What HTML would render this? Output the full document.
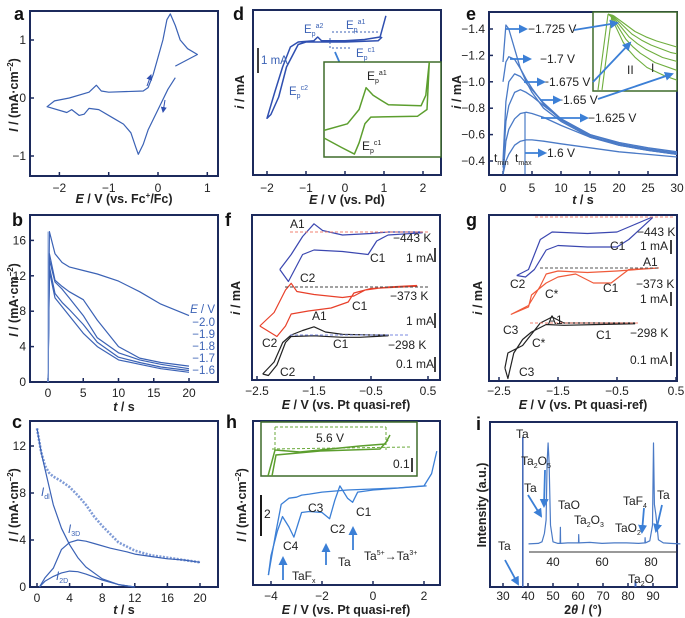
<!DOCTYPE html>
<html><head><meta charset="utf-8"><style>
html,body{margin:0;padding:0;background:#fff}
svg{display:block;font-family:"Liberation Sans",sans-serif}
.fr{fill:none;stroke:#1c2a5c;stroke-width:2}
.tk{font-size:12px;fill:#222}
.al{font-size:12.5px;font-weight:bold;fill:#222}
.pl{font-size:18px;font-weight:bold;fill:#111}
.bl{fill:#3b62b5;font-size:11.5px}
</style></head><body>
<svg id="fig" width="685" height="618" viewBox="0 0 685 618">
<defs>
<marker id="ar" markerUnits="userSpaceOnUse" markerWidth="9" markerHeight="9" refX="7" refY="4.5" orient="auto"><path d="M0,0 L9,4.5 L0,9 z" fill="#3b7fd6"/></marker>
<marker id="ars" markerUnits="userSpaceOnUse" markerWidth="6" markerHeight="6" refX="5" refY="3" orient="auto"><path d="M0,0 L6,3 L0,6 z" fill="#2f4fb0"/></marker>
<clipPath id="eclip"><rect x="593" y="12" width="84" height="79"/></clipPath>
</defs>
<rect class="fr" x="30" y="11" width="188" height="165"/>
<rect class="fr" x="30" y="215" width="188" height="167"/>
<rect class="fr" x="30" y="421" width="188" height="166"/>
<rect class="fr" x="253" y="10" width="188" height="165"/>
<rect class="fr" x="489" y="12" width="188" height="163"/>
<rect class="fr" x="252" y="215" width="188" height="165"/>
<rect class="fr" x="489" y="215" width="188" height="166"/>
<rect class="fr" x="253" y="421" width="187" height="164"/>
<rect class="fr" x="490" y="422" width="187" height="165"/>
<text class="pl" x="14" y="20">a</text>
<text class="pl" x="12" y="226">b</text>
<text class="pl" x="12" y="428">c</text>
<text class="pl" x="233" y="20">d</text>
<text class="pl" x="466" y="20">e</text>
<text class="pl" x="225" y="226">f</text>
<text class="pl" x="466" y="226">g</text>
<text class="pl" x="226" y="428">h</text>
<text class="pl" x="476" y="430">i</text>
<g class="al" text-anchor="middle">
<text x="124" y="203"><tspan font-style="italic">E</tspan> / V (vs. Fc<tspan baseline-shift="5" font-size="8">+</tspan>/Fc)</text>
<text x="124" y="411"><tspan font-style="italic">t</tspan> / s</text>
<text x="124" y="614"><tspan font-style="italic">t</tspan> / s</text>
<text x="347" y="204"><tspan font-style="italic">E</tspan> / V (vs. Pd)</text>
<text x="583" y="204"><tspan font-style="italic">t</tspan> / s</text>
<text x="346" y="409"><tspan font-style="italic">E</tspan> / V (vs. Pt quasi-ref)</text>
<text x="583" y="409"><tspan font-style="italic">E</tspan> / V (vs. Pt quasi-ref)</text>
<text x="346" y="614"><tspan font-style="italic">E</tspan> / V (vs. Pt quasi-ref)</text>
<text x="583" y="614">2<tspan font-style="italic">θ</tspan> / (°)</text>
<text transform="translate(18,95) rotate(-90)"><tspan font-style="italic">I</tspan> / (mA·cm<tspan baseline-shift="5" font-size="8">−2</tspan>)</text>
<text transform="translate(18,300) rotate(-90)"><tspan font-style="italic">I</tspan> / (mA·cm<tspan baseline-shift="5" font-size="8">−2</tspan>)</text>
<text transform="translate(18,505) rotate(-90)"><tspan font-style="italic">I</tspan> / (mA·cm<tspan baseline-shift="5" font-size="8">−2</tspan>)</text>
<text transform="translate(244,92) rotate(-90)"><tspan font-style="italic">i</tspan> / mA</text>
<text transform="translate(461,92) rotate(-90)"><tspan font-style="italic">i</tspan> / mA</text>
<text transform="translate(240,298) rotate(-90)"><tspan font-style="italic">i</tspan> / mA</text>
<text transform="translate(482,298) rotate(-90)"><tspan font-style="italic">i</tspan> / mA</text>
<text transform="translate(246,505) rotate(-90)"><tspan font-style="italic">I</tspan> / (mA·cm<tspan baseline-shift="5" font-size="8">−2</tspan>)</text>
<text transform="translate(486,505) rotate(-90)">Intensity (a.u.)</text>
</g>
<g id="dyn"></g>
</svg>
<script>
// ---------- data ----------
const aTicksX=[-2,-1,0,1], aTicksY=[-1,0,1];
const aCV=[[0.35,0.55],[0.8,0.75],[0.6,0.85],[0.45,1.0],[0.35,1.25],[0.25,1.45],[0.18,1.35],[0.1,1.0],[0,0.7],[-0.1,0.4],[-0.2,0.18],[-0.3,0.12],[-1,0.1],[-1.15,0.12],[-1.25,0.22],[-1.4,0.1],[-1.8,0],[-2.1,-0.05],[-2.25,-0.15],[-1.85,-0.25],[-1.75,-0.2],[-1.6,-0.3],[-1.5,-0.28],[-1.4,-0.18],[-1.2,-0.2],[-0.9,-0.35],[-0.7,-0.45],[-0.55,-0.6],[-0.45,-0.85],[-0.4,-0.97],[-0.3,-0.8],[-0.2,-0.55],[0,-0.2],[0.2,0.15],[0.35,0.35]];
const bT=[0,0.2,1,2,3,5,7,10,13,16,20];
const bSeriesNames=['−2.0','−1.9','−1.8','−1.7','−1.6'];
const bS20=[0,17,14.5,13.5,13,12.6,12.2,11.4,10.2,8.8,7.5];
const bS19=[0,14.5,11.5,10.8,10.2,9.3,7,4,2.7,2.2,1.8];
const bS18=[0,13.8,11.3,10.5,9.5,7.5,5,3.3,2.5,2,1.5];
const bS17=[0,13,10,9,8.2,6.5,4.5,2.8,2.2,1.7,1.3];
const bS16=[0,12.5,9.5,8.5,7.5,5.5,4,2.5,2,1.5,1.1];
const bTicksX=[0,5,10,15,20], bTicksY=[0,4,8,12,16];
const cTdl=[0,0.5,1,2,3,4,5,6,8,10,12], cIdl=[13.5,11.5,10,7,5,3.6,2.5,1.7,0.7,0.2,0];
const cT3=[0.3,1,2,3,4,5,6,7,9,11,12,14,16,18,20], cI3=[0,0.8,1.6,3.2,3.8,4,3.9,3.7,3.3,3,2.8,2.6,2.4,2.3,2.1];
const cT2=[0.3,1,2,3,4,5,6,8,10,12], cI2=[0,0.5,0.9,1.2,1.35,1.3,1.1,0.6,0.2,0];
const cTexp=[0,0.5,1,1.5,2,3,4,5,6,7,8,10,12,14,16,18,20], cIexp=[13.5,11.5,10.3,9.7,9.4,9,8.5,7.8,7,6,5.2,3.8,3.1,2.7,2.5,2.3,2.1];
const cTicksX=[0,4,8,12,16,20], cTicksY=[0,4,8,12];
const dCV=[[1.05,1.05],[0.9,0.2],[0.5,0.1],[0,0.05],[-0.6,0.05],[-0.7,0.2],[-0.8,0.05],[-1.2,0],[-1.4,-0.2],[-1.6,-1.0],[-1.8,-2.0],[-2,-3.05],[-1.9,-2.9],[-1.7,-2.2],[-1.5,-1.0],[-1.3,-0.4],[-1.2,-0.1],[-1,0],[0,0],[0.85,0.05],[0.95,0.2]];
const dInset=[[0,0.72],[0.2,0.65],[0.3,0.5],[0.36,0.27],[0.42,0.35],[0.55,0.45],[0.83,0.46],[0.87,0.35],[0.9,0],[0.88,0.5],[0.8,0.57],[0.4,0.58],[0.35,0.65],[0.3,0.85],[0.26,0.97],[0.15,0.9],[0,0.8]];
const dTicksX=[-2,-1,0,1,2];
const eT=[0,0.5,1,2,3,4,5,7,10,15,20,25,30];
const eLabels=['−1.725 V','−1.7 V','−1.675 V','−1.65 V','−1.625 V','−1.6 V'];
const eS1725=[-1.15,-1.43,-1.4,-1.25,-1.1,-1.0,-0.92,-0.8,-0.7,-0.58,-0.52,-0.48,-0.45];
const eS1700=[-1.0,-1.15,-1.19,-1.17,-1.1,-1.02,-0.95,-0.83,-0.71,-0.59,-0.52,-0.48,-0.45];
const eS1675=[-0.4,-0.85,-1.0,-1.06,-1.04,-0.99,-0.94,-0.84,-0.72,-0.6,-0.53,-0.49,-0.46];
const eS1650=[-0.35,-0.7,-0.82,-0.92,-0.94,-0.92,-0.89,-0.82,-0.72,-0.6,-0.54,-0.5,-0.47];
const eS1625=[-0.3,-0.55,-0.64,-0.72,-0.76,-0.77,-0.76,-0.73,-0.67,-0.58,-0.53,-0.49,-0.46];
const eS1600=[-0.3,-0.4,-0.45,-0.52,-0.55,-0.56,-0.56,-0.55,-0.53,-0.5,-0.47,-0.45,-0.43];
const eTicksX=[0,5,10,15,20,25,30], eTicksY=[-1.4,-1.2,-1.0,-0.8,-0.6,-0.4];
const fBlue=[[-2.1,-2.5],[-1.9,-1.5],[-1.7,-0.3],[-1.5,0.55],[-1.35,0.1],[-1.0,-0.2],[-0.5,-0.1],[-0.2,0],[0.4,0],[0.4,-0.05],[-0.2,-0.2],[-0.4,-0.6],[-0.55,-1.5],[-1.0,-1.3],[-1.5,-1.2],[-1.7,-1.5],[-1.95,-3.3],[-2.1,-2.5]];
const fRed=[[-2.45,-2.6],[-2.2,-1.7],[-2.0,-0.2],[-1.9,0.25],[-1.8,-0.3],[-1.5,-0.5],[-1.0,-0.7],[-0.8,-0.6],[-0.6,-0.2],[-0.2,0],[0.3,0.1],[0.3,0.05],[-0.5,-0.1],[-0.8,-0.4],[-0.9,-1.0],[-1.2,-1.4],[-1.6,-1.6],[-1.9,-1.8],[-2.0,-2.6],[-2.15,-3.3],[-2.45,-2.6]];
const fBlack=[[-2.4,-2.6],[-2.2,-1.8],[-2.05,-0.5],[-1.9,0],[-1.7,0.3],[-1.5,0.55],[-1.3,0.2],[-1.0,0.05],[-0.5,0],[-0.2,0],[-0.2,-0.05],[-0.7,-0.15],[-1.0,-0.15],[-1.5,-0.05],[-1.9,-0.1],[-2.0,-0.5],[-2.15,-2.0],[-2.3,-2.7],[-2.4,-2.6]];
const gBlue=[[-2.2,-3.9],[-2.0,-3.5],[-1.8,-1.5],[-1.6,-1.0],[-1.0,-1.1],[-0.5,-1.0],[-0.2,-0.5],[0.1,0],[0.1,-0.05],[-0.3,-1.5],[-0.5,-2.0],[-1.0,-2.0],[-1.5,-1.9],[-1.7,-2.2],[-1.9,-3.5],[-2.05,-4.0],[-2.2,-3.9]];
const gRed=[[-2.3,-3.1],[-2.0,-2.5],[-1.8,-1.2],[-1.7,-0.4],[-1.5,-0.2],[-1.0,-0.3],[-0.5,-0.2],[0.2,0],[0.2,0],[-0.3,-0.1],[-0.6,-1.0],[-0.9,-1.0],[-1.2,-0.4],[-1.5,-0.6],[-1.7,-1.0],[-1.95,-1.8],[-2.0,-2.6],[-2.3,-3.1]];
const gBlack=[[-2.4,-3.0],[-2.35,-2.0],[-2.1,-1.5],[-1.9,-0.5],[-1.8,0],[-1.6,0.4],[-1.4,0],[-0.2,0],[-0.2,-0.05],[-0.8,-0.1],[-1.4,-0.15],[-1.7,-0.1],[-1.95,-0.6],[-2.1,-1.1],[-2.25,-2.0],[-2.35,-3.7],[-2.4,-3.0]];
const fgTicksX=[-2.5,-1.5,-0.5,0.5];
const hCV=[[-4.1,-4.15],[-3.8,-2.0],[-3.6,-0.7],[-3.3,-0.4],[-3.0,-0.35],[-2.8,-0.25],[-2.5,-0.2],[-2,-0.1],[-1,0],[0,0.05],[1,0.1],[2.0,0.2],[2.3,0.8],[2.5,1.9]];
const hCV2=[[2.1,0.2],[0,0],[-0.6,-0.1],[-0.8,-0.6],[-1.0,-0.4],[-1.3,0.2],[-1.5,-0.5],[-1.7,-1.4],[-2.0,-1.1],[-2.5,-1.05],[-2.8,-1.1],[-3.1,-2.3],[-3.3,-1.8],[-3.55,-1.3],[-3.75,-2.0],[-4.0,-3.2],[-4.1,-4.15]];
const hTicksX=[-4,-2,0,2];
const iTicksX=[30,40,50,60,70,80,90];
const iInsetTheta=[30,34,35.5,36.5,37.2,37.6,38,38.4,39,40,42,42.9,43,43.1,46,50.4,50.5,50.6,55,60,65,70,75,77.5,77.6,77.7,79.5,80.6,81,81.4,82,83,85,88,92];
const iInsetInt=[2,2.5,4,12,25,80,99,80,20,4,2.5,2.5,18,2.5,3,3,11,3,3.5,2.5,3,3,2.5,3,8,3,5,20,99,40,30,6,3,2.5,2];
const iInsetTicks=[40,60,80];
// ---------- helpers ----------
const NS='http://www.w3.org/2000/svg';
const root=document.getElementById('dyn');
function el(tag,attrs,parent){const e=document.createElementNS(NS,tag);for(const k in attrs)e.setAttribute(k,attrs[k]);(parent||root).appendChild(e);return e;}
function dstr(pts,fx,fy){return pts.map((p,i)=>(i?'L':'M')+fx(p[0]).toFixed(1)+','+fy(p[1]).toFixed(1)).join(' ');}
function zip(a,b){return a.map((v,i)=>[v,b[i]]);}
function line(pts,fx,fy,stroke,w,name,extra,parent){const p=el('path',Object.assign({d:dstr(pts,fx,fy),fill:'none',stroke:stroke,'stroke-width':w,'stroke-linejoin':'round'},extra||{}),parent);


return p;}
function txt(x,y,s,cls,name,anchor,fill,size){const t=el('text',{x:x,y:y,'class':cls||'tk','text-anchor':anchor||'middle'});if(fill)t.setAttribute('fill',fill);if(size)t.setAttribute('font-size',size);
if(s.indexOf('<')>=0)t.innerHTML=s;else t.textContent=s;


return t;}
const SUB=s=>'<tspan baseline-shift="-3" font-size="7">'+s+'</tspan>';
const SUP=s=>'<tspan baseline-shift="5" font-size="7">'+s+'</tspan>';
function xticks(ticks,fx,yb,ylab,name,fmt){ticks.forEach(v=>{const t=el('line',{x1:fx(v),x2:fx(v),y1:yb,y2:yb-4,stroke:'#1c2a5c','stroke-width':1.5});


txt(fx(v),ylab,fmt?fmt(v):String(v).replace('-','−'),'tk',name+'-tick-label');});}
function yticks(ticks,fy,xl,name,fmt){ticks.forEach(v=>{const t=el('line',{x1:xl,x2:xl+4,y1:fy(v),y2:fy(v),stroke:'#1c2a5c','stroke-width':1.5});


txt(xl-4,fy(v)+4,fmt?fmt(v):String(v).replace('-','−'),'tk',name+'-tick-label','end');});}
function arrow(x1,y1,x2,y2,name,small){const a=el('line',{x1:x1,y1:y1,x2:x2,y2:y2,stroke:small?'#2f4fb0':'#3b7fd6','stroke-width':small?1:1.8,'marker-end':small?'url(#ars)':'url(#ar)'});

}
const BL='#3b62b5', GR='#5c9e2e', RD='#e8402a', BK='#222';
// ---------- panel a ----------
const ax=v=>158+v*49.3, ay=v=>98-v*58;
xticks(aTicksX,ax,176,192,'a-x');yticks(aTicksY,ay,30,'a-y');
line(aCV,ax,ay,BL,1.2,'a-cv-curve');
arrow(147,86,151,75,'a-arrow-up',true);arrow(165,100,163,112,'a-arrow-down',true);
// ---------- panel b ----------
const bx=v=>48+v*7.05, by=v=>382-v*8.85;
xticks(bTicksX,bx,382,397,'b-x');yticks(bTicksY,by,30,'b-y');
[bS20,bS19,bS18,bS17,bS16].forEach((s,i)=>line(zip(bT,s),bx,by,BL,1.2,'b-series-'+i));
line([[0,0],[0,17]],bx,by,'#8fa8da',1,'b-rise-line');
txt(215,313,'<tspan font-style="italic">E</tspan> / V','bl','b-legend-title','end');
bSeriesNames.forEach((n,i)=>txt(215,326+i*12,n,'bl','b-legend-entry','end'));
// ---------- panel c ----------
const cx=v=>37+v*8.15, cy=v=>587-v*11.75;
xticks(cTicksX,cx,587,602,'c-x');yticks(cTicksY,cy,30,'c-y');
line(zip(cTexp,cIexp),cx,cy,'#7f9bd6',2.6,'c-experimental',{'stroke-dasharray':'2 1.5'});
line(zip(cTdl,cIdl),cx,cy,BL,1.2,'c-idl');line(zip(cT3,cI3),cx,cy,BL,1.2,'c-i3d');line(zip(cT2,cI2),cx,cy,BL,1.2,'c-i2d');
txt(41,496,'<tspan font-style="italic">I</tspan>'+SUB('dl'),'bl','c-label-idl','start');
txt(68,533,'<tspan font-style="italic">I</tspan>'+SUB('3D'),'bl','c-label-i3d','start');
txt(56,580,'<tspan font-style="italic">I</tspan>'+SUB('2D'),'bl','c-label-i2d','start');
// ---------- panel d ----------
const dx=v=>345+v*39, dy=v=>42-v*25;
xticks(dTicksX,dx,175,192,'d-x');
line(dCV,dx,dy,'#2f4fb0',1.5,'d-cv-curve');
el('line',{x1:258,x2:258,y1:48,y2:73,stroke:'#000','stroke-width':1.5});
txt(261,64,'1 mA','bl','d-scale-label','start','#222');
txt(304,33,'E'+SUB('p')+SUP('a2'),'bl','d-label-ep-a2','start');txt(346,29,'E'+SUB('p')+SUP('a1'),'bl','d-label-ep-a1','start');
txt(356,57,'E'+SUB('p')+SUP('c1'),'bl','d-label-ep-c1','start');txt(289,95,'E'+SUB('p')+SUP('c2'),'bl','d-label-ep-c2','start');
el('path',{d:'M332,32 L379,32 M332,48 L350,48 M330,38 L330,50',stroke:'#3b62b5','stroke-dasharray':'2 2',fill:'none'});
arrow(335,52,355,98,'d-zoom-arrow');
const dIn=el('rect',{x:324,y:62,width:117,height:95,fill:'#fff',stroke:'#3e6b2a','stroke-width':1.5});


line(dInset,u=>324+u*117,v=>62+v*95,GR,1.5,'d-inset-cv');
txt(367,80,'E'+SUB('p')+SUP('a1'),'tk','d-inset-label-ea1','start',GR);txt(362,150,'E'+SUB('p')+SUP('c1'),'tk','d-inset-label-ec1','start',GR);
// ---------- panel e ----------
const ex=v=>503+v*5.8, ey=v=>161+(v+0.4)*132;
xticks(eTicksX,ex,175,192,'e-x');yticks(eTicksY,ey,489,'e-y',v=>'−'+Math.abs(v).toFixed(1));
[eS1725,eS1700,eS1675,eS1650,eS1625,eS1600].forEach((s,i)=>line(zip(eT,s),ex,ey,'#4a7ac6',1.3,'e-series-'+i));
line([[3.8,-0.77],[3.8,-0.3]],ex,ey,'#4a7ac6',1.2,'e-tmax-line');
const eLy=[29,59,82,100,118,153], eLx=[528,540,542,556,588,540];
eLabels.forEach((n,i)=>txt(eLx[i],eLy[i]+4,n,'tk','e-label','start'));
const eAx=[506,510,524,540,541,525], eAy=[29,59,82,100,118,153];
eAx.forEach((x,i)=>arrow(x,eAy[i],x+(i==4?46:20),eAy[i],'e-arrow'));
txt(494,162,'t'+SUB('min'),'tk','e-tmin','start',null,10);txt(515,162,'t'+SUB('max'),'tk','e-tmax','start',null,10);
const eIn=el('rect',{x:593,y:12,width:84,height:79,fill:'#fff',stroke:'#3e6b2a','stroke-width':1.5});


const eg=el('g',{'clip-path':'url(#eclip)'});
[0,1,2,3,4].forEach(k=>line(zip(eT.slice(1,10),eS1725.slice(1,10)),t=>608+(t-0.5)*(6+k*1.2),v=>14+(v+1.43)*(85-k*8),'#6fae3e',1.1,'e-inset-curve',null,eg));
[0,1].forEach(k=>line([[0,-1.15],[0.5,-1.43]],t=>598+k*4+t*20,v=>90+(v+1.15)*270,'#6fae3e',1.1,'e-inset-rise',null,eg));
txt(651,72,'I','tk','e-inset-label-I','start',GR);txt(627,74,'II','tk','e-inset-label-II','start',GR);
arrow(574,30,617,23,'e-arrow-inset-1');arrow(593,82,630,43,'e-arrow-inset-2');arrow(598,99,672,74,'e-arrow-inset-3');
// ---------- panel f ----------
const fx=v=>257+(v+2.5)*57;
xticks(fgTicksX,fx,380,395,'f-x');
line(fBlue,fx,v=>232-v*15,'#3b47b0',1.2,'f-443K');line(fRed,fx,v=>287-v*15,RD,1.2,'f-373K');line(fBlack,fx,v=>335-v*15,BK,1.2,'f-298K');
el('line',{x1:290,x2:428,y1:232,y2:232,stroke:'#f08070','stroke-dasharray':'3 2'});
el('line',{x1:285,x2:428,y1:287,y2:287,stroke:'#444','stroke-dasharray':'3 2'});
el('line',{x1:290,x2:410,y1:335,y2:335,stroke:'#7a8ae0','stroke-dasharray':'3 2'});
[[290,228,'A1',BL],[300,282,'C2',BL],[370,262,'C1',BL],[393,242,'−443 K',BL],[390,300,'−373 K',RD],[352,310,'C1',RD],[262,347,'C2',RD],[312,320,'A1',BK],[333,348,'C1',BK],[388,349,'−298 K',BK],[280,376,'C2',BK],[406,262,'1 mA',BK],[406,325,'1 mA',BK],[396,368,'0.1 mA',BK]].forEach(a=>txt(a[0],a[1],a[2],'tk','f-annotation','start',a[3]));
[[435,248,262],[435,313,328],[435,357,372]].forEach(s=>el('line',{x1:s[0],x2:s[0],y1:s[1],y2:s[2],stroke:'#000','stroke-width':1.5}));
// ---------- panel g ----------
const gx=v=>499+(v+2.5)*59;
xticks(fgTicksX,gx,381,395,'g-x');
line(gBlue,gx,v=>217-v*15,'#3b47b0',1.2,'g-443K');line(gRed,gx,v=>268-v*15,'#f05a3a',1.2,'g-373K');line(gBlack,gx,v=>323-v*15,BK,1.2,'g-298K');
el('line',{x1:535,x2:675,y1:217,y2:217,stroke:'#f08070','stroke-dasharray':'3 2'});
el('line',{x1:540,x2:660,y1:268,y2:268,stroke:'#555','stroke-dasharray':'3 2'});
el('line',{x1:530,x2:640,y1:323,y2:323,stroke:'#f08070','stroke-dasharray':'3 2'});
[[637,236,'−443 K',BL],[610,250,'C1',BL],[510,288,'C2',BL],[643,266,'A1',RD],[636,288,'−373 K',RD],[603,292,'C1',RD],[545,298,'C*',RD],[503,334,'C3',RD],[548,324,'A1',BK],[596,339,'C1',BK],[630,337,'−298 K',BK],[532,347,'C*',BK],[519,376,'C3',BK],[640,250,'1 mA',BK],[640,303,'1 mA',BK],[630,364,'0.1 mA',BK]].forEach(a=>txt(a[0],a[1],a[2],'tk','g-annotation','start',a[3]));
[[671,240,254],[671,292,306],[671,352,366]].forEach(s=>el('line',{x1:s[0],x2:s[0],y1:s[1],y2:s[2],stroke:'#000','stroke-width':1.5}));
// ---------- panel h ----------
const hx=v=>373+v*25.5, hy=v=>490-v*20.5;
xticks(hTicksX,hx,585,600,'h-x');
line(hCV,hx,hy,'#3b7fd6',1.3,'h-anodic');line(hCV2,hx,hy,'#3b7fd6',1.3,'h-cathodic');
el('line',{x1:261,x2:261,y1:495,y2:536,stroke:'#000','stroke-width':1.8});txt(264,518,'2','tk','h-scale-label','start');
[[283,550,'C4'],[308,512,'C3'],[330,533,'C2'],[356,516,'C1'],[364,560,'Ta'+SUP('5+')+'→Ta'+SUP('3+')],[338,566,'Ta'],[292,580,'TaF'+SUB('x')]].forEach(a=>txt(a[0],a[1],a[2],'tk','h-annotation','start',BL));
[[283,580,558],[326,565,545],[353,550,528]].forEach(s=>arrow(s[0],s[1],s[0],s[2],'h-arrow'));
const hIn=el('rect',{x:261,y:422,width:156,height:54,fill:'#fff',stroke:'#3e6b2a','stroke-width':1.5});


el('path',{d:'M272,449 L410,447 M275,427 L386,427 M275,427 L275,452 M386,427 L386,452',stroke:'#6aaa3a','stroke-dasharray':'3 2',fill:'none'});
el('path',{d:'M268,476 L275,450 L300,452 L330,449 L360,446 L385,444 L390,435 M272,476 L276,455 L320,451 L380,449 L388,440',stroke:GR,'stroke-width':1.5,fill:'none'});
txt(330,442,'5.6 V','tk','h-inset-label','middle',GR);txt(393,468,'0.1','tk','h-inset-scale','start');
el('line',{x1:412,x2:412,y1:458,y2:472,stroke:'#000','stroke-width':1.5});
// ---------- panel i ----------
const ix=v=>503+(v-30)*2.5;
xticks(iTicksX,ix,587,600,'i-x');
line([[37.9,0],[37.9,1]],ix,v=>587-v*150,BL,1.5,'i-main-peak');
line([[83,0],[83,0.04]],ix,v=>587-v*150,BL,2,'i-ta2o-peak');
const iix=v=>553+(v-40)*2.45, iiy=v=>546-v*1.04;
line(zip(iInsetTheta,iInsetInt),iix,iiy,'#4a7ac6',1.2,'i-inset-spectrum');
el('line',{x1:529,x2:677,y1:552,y2:552,stroke:'#333','stroke-width':1});
iInsetTicks.forEach(v=>txt(iix(v),566,String(v),'tk','i-inset-tick-label','middle',null,10));
[[516,438,'Ta',BL,13],[521,465,'Ta'+SUB('2')+'O'+SUB('5'),BL,9],[524,492,'Ta',BL,9],[558,509,'TaO',BL,9],[574,524,'Ta'+SUB('2')+'O'+SUB('3'),BL,9],[615,532,'TaO'+SUB('2'),BL,9],[623,505,'TaF'+SUB('4'),BL,9],[657,499,'Ta',BL,10],[498,550,'Ta',BL,13],[628,583,'Ta'+SUB('2')+'O',BL,13]].forEach(a=>txt(a[0],a[1],a[2],'tk','i-annotation','start',a[3],a[4]));
arrow(528,495,541,516,'i-arrow');arrow(545,470,544,506,'i-arrow');arrow(644,508,642,532,'i-arrow');arrow(662,505,656,531,'i-arrow');arrow(505,560,518,584,'i-arrow');
</script>
</body></html>
